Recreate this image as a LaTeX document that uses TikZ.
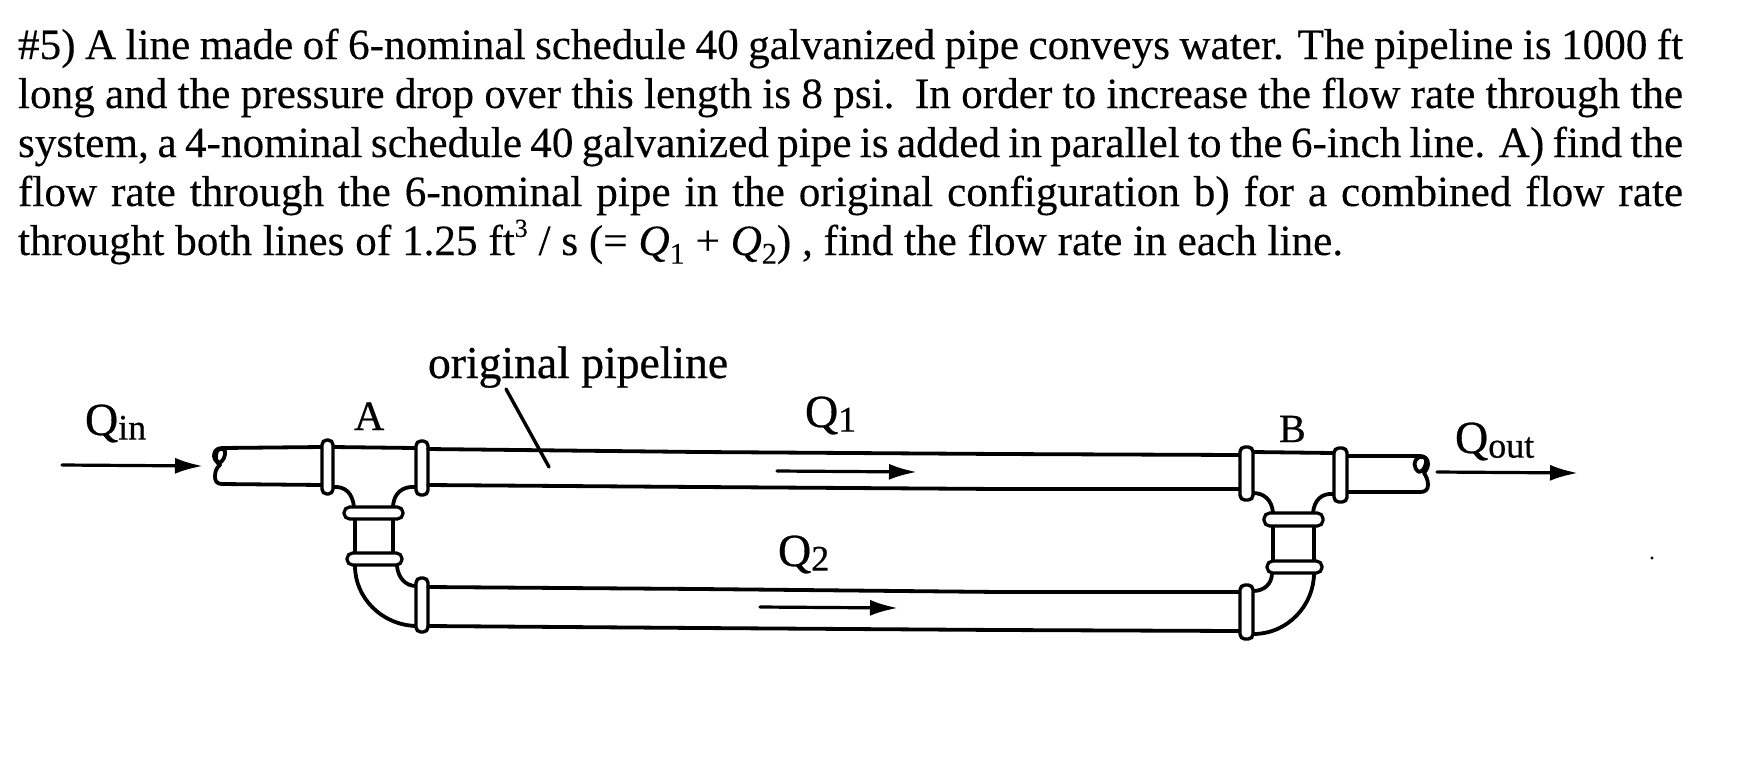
\documentclass[tikz,border=0pt]{standalone}
\usepackage{fontspec}
\setmainfont[RawFeature={embolden=0.25}]{Liberation Serif}
\newfontfamily\labfont[RawFeature={embolden=0.6}]{Liberation Serif}
\newcommand{\bodyfs}{\fontsize{21.6}{24}\selectfont}
\newcommand{\sublab}[1]{\raisebox{-0.1em}{\fontsize{18}{18}\selectfont #1}}
\newcommand{\pline}[3]{\node[txt] (#1) at (18,#2) {\bodyfs\makebox[832.5pt][s]{#3}};}
\newcommand{\vflange}[4]{\draw[flange] (#1,#3) rectangle (#2,#4);}
\newcommand{\hflange}[4]{\draw[hflangestyle] (#1,#3) rectangle (#2,#4);}
\usetikzlibrary{arrows.meta}
\tikzset{
  txt/.style={anchor=base west,inner sep=0pt,outer sep=0pt},
  lab/.style={anchor=base west,inner sep=0pt,outer sep=0pt,font=\labfont\fontsize{23}{24}\selectfont},
  pipe/.style={line width=1.9pt,line cap=round,line join=round},
  flange/.style={line width=1.7pt,rounded corners=2.4pt,fill=white},
  hflangestyle/.style={line width=1.6pt,rounded corners=2.8pt,fill=white},
  flow/.style={line width=1.6pt,line cap=round,-{Latex[length=14pt,width=8pt]}},
}
\begin{document}
\begin{tikzpicture}[x=0.5pt,y=-0.5pt]
\useasboundingbox (0,0) rectangle (1764,760);
% text
\pline{l1}{59}{\#5) A line made of 6-nominal schedule 40 galvanized pipe conveys water. The pipeline is 1000 ft}
\pline{l2}{108}{long and the pressure drop over this length is 8 psi.\ \ In order to increase the flow rate through the}
\pline{l3}{157}{system, a 4-nominal schedule 40 galvanized pipe is added in parallel to the 6-inch line. A) find the}
\pline{l4}{206}{flow rate through the 6-nominal pipe in the original configuration b) for a combined flow rate}
\node[txt] (l5) at (18,255) {\bodyfs throught both lines of 1.25 ft\raisebox{0.42em}{\fontsize{13}{14}\selectfont 3} / s (= \textit{Q}\raisebox{-0.2em}{\fontsize{15}{16}\selectfont 1} + \textit{Q}\raisebox{-0.2em}{\fontsize{15}{16}\selectfont 2}) , find the flow rate in each line.};
% inlet and tee A
\draw[pipe] (322,447) -- (222,448) .. controls (216,448) and (214,452) .. (214,456)
  .. controls (214,460) and (218,463) .. (220,465) .. controls (216,468) and (215,472) .. (215,477)
  .. controls (215,481) and (217,484) .. (222,484) -- (322,485);
\draw[pipe] (219,449) .. controls (215,452) and (215,459) .. (218,463) .. controls (223,463) and (226,455) .. (225,451) .. controls (224,449) and (222,448) .. (219,449);
\draw[pipe] (333,447) -- (415,448);
\draw[pipe] (333,487) .. controls (345,486) and (353,493) .. (354,508);
\draw[pipe] (415,487) .. controls (403,486) and (393,493) .. (393,508);
\draw[pipe] (355,519) -- (355,553);
\draw[pipe] (393,519) -- (393,553);
\draw[pipe] (355,566) .. controls (355,598) and (382,625) .. (416,626);
\draw[pipe] (397,566) .. controls (398,577) and (405,586) .. (416,586);
\vflange{322}{333}{440}{494}
\vflange{416}{428}{441}{495}
\hflange{344}{403}{507}{519}
\hflange{347}{402}{553}{565}
\vflange{416}{428}{578}{632}
% main lines
\draw[pipe] (428,449) -- (700,452) -- (1000,454) -- (1239,455);
\draw[pipe] (428,485) -- (700,487) -- (1000,489) -- (1239,489);
\draw[pipe] (428,587) -- (700,589) -- (1000,592) -- (1239,592);
\draw[pipe] (428,626) -- (700,628) -- (1000,630) -- (1239,631);
% tee B and outlet
\draw[pipe] (1253,452) -- (1333,453);
\draw[pipe] (1253,493) .. controls (1264,493) and (1272,500) .. (1273,513);
\draw[pipe] (1333,494) .. controls (1322,493) and (1314,500) .. (1313,513);
\draw[pipe] (1273,526) -- (1273,562);
\draw[pipe] (1314,526) -- (1314,562);
\draw[pipe] (1314,573) .. controls (1314,605) and (1288,634) .. (1253,634);
\draw[pipe] (1272,573) .. controls (1272,584) and (1264,591) .. (1253,591);
\draw[pipe] (1347,456) -- (1420,456) .. controls (1425,456) and (1428,459) .. (1428,464)
  .. controls (1428,469) and (1425,471) .. (1424,473) .. controls (1426,476) and (1428,480) .. (1428,485)
  .. controls (1428,490) and (1425,492) .. (1420,492) -- (1347,492);
\draw[pipe] (1419,457) .. controls (1413,460) and (1413,468) .. (1419,472) .. controls (1424,472) and (1427,463) .. (1426,459) .. controls (1425,457) and (1422,456) .. (1419,457);
\vflange{1240}{1253}{447}{500}
\vflange{1334}{1347}{448}{502}
\hflange{1264}{1323}{513}{526}
\hflange{1267}{1322}{561}{573}
\vflange{1240}{1253}{585}{639}
% labels
\node[lab] (qin) at (85,435) {Q\sublab{in}};
\node[lab,font=\labfont\fontsize{21}{24}\selectfont] (A) at (354,430) {A};
\node[lab,font=\labfont\fontsize{22.8}{24}\selectfont] (orig) at (428,378) {original pipeline};
\node[lab] (q1) at (805,427) {Q\sublab{1}};
\node[lab] (q2) at (778,566) {Q\sublab{2}};
\node[lab,font=\labfont\fontsize{20}{24}\selectfont] (B) at (1279,442) {B};
\node[lab] (qout) at (1455,453) {Q\sublab{out}};
% leader and flow arrows
\coordinate (origtip) at (549,467);
\draw[line width=1.7pt,line cap=round] (506,389) -- (origtip);
\coordinate (ina) at (62,465); \coordinate (inb) at (203,466);
\draw[flow] (ina) -- (inb);
\coordinate (q1a) at (777,471); \coordinate (q1b) at (917,472);
\draw[flow] (q1a) -- (q1b);
\coordinate (q2a) at (760,607); \coordinate (q2b) at (898,608);
\draw[flow] (q2a) -- (q2b);
\coordinate (outa) at (1437,472); \coordinate (outb) at (1578,473);
\draw[flow] (outa) -- (outb);
\fill (1652,558) circle (1.6);
\end{tikzpicture}
\end{document}
